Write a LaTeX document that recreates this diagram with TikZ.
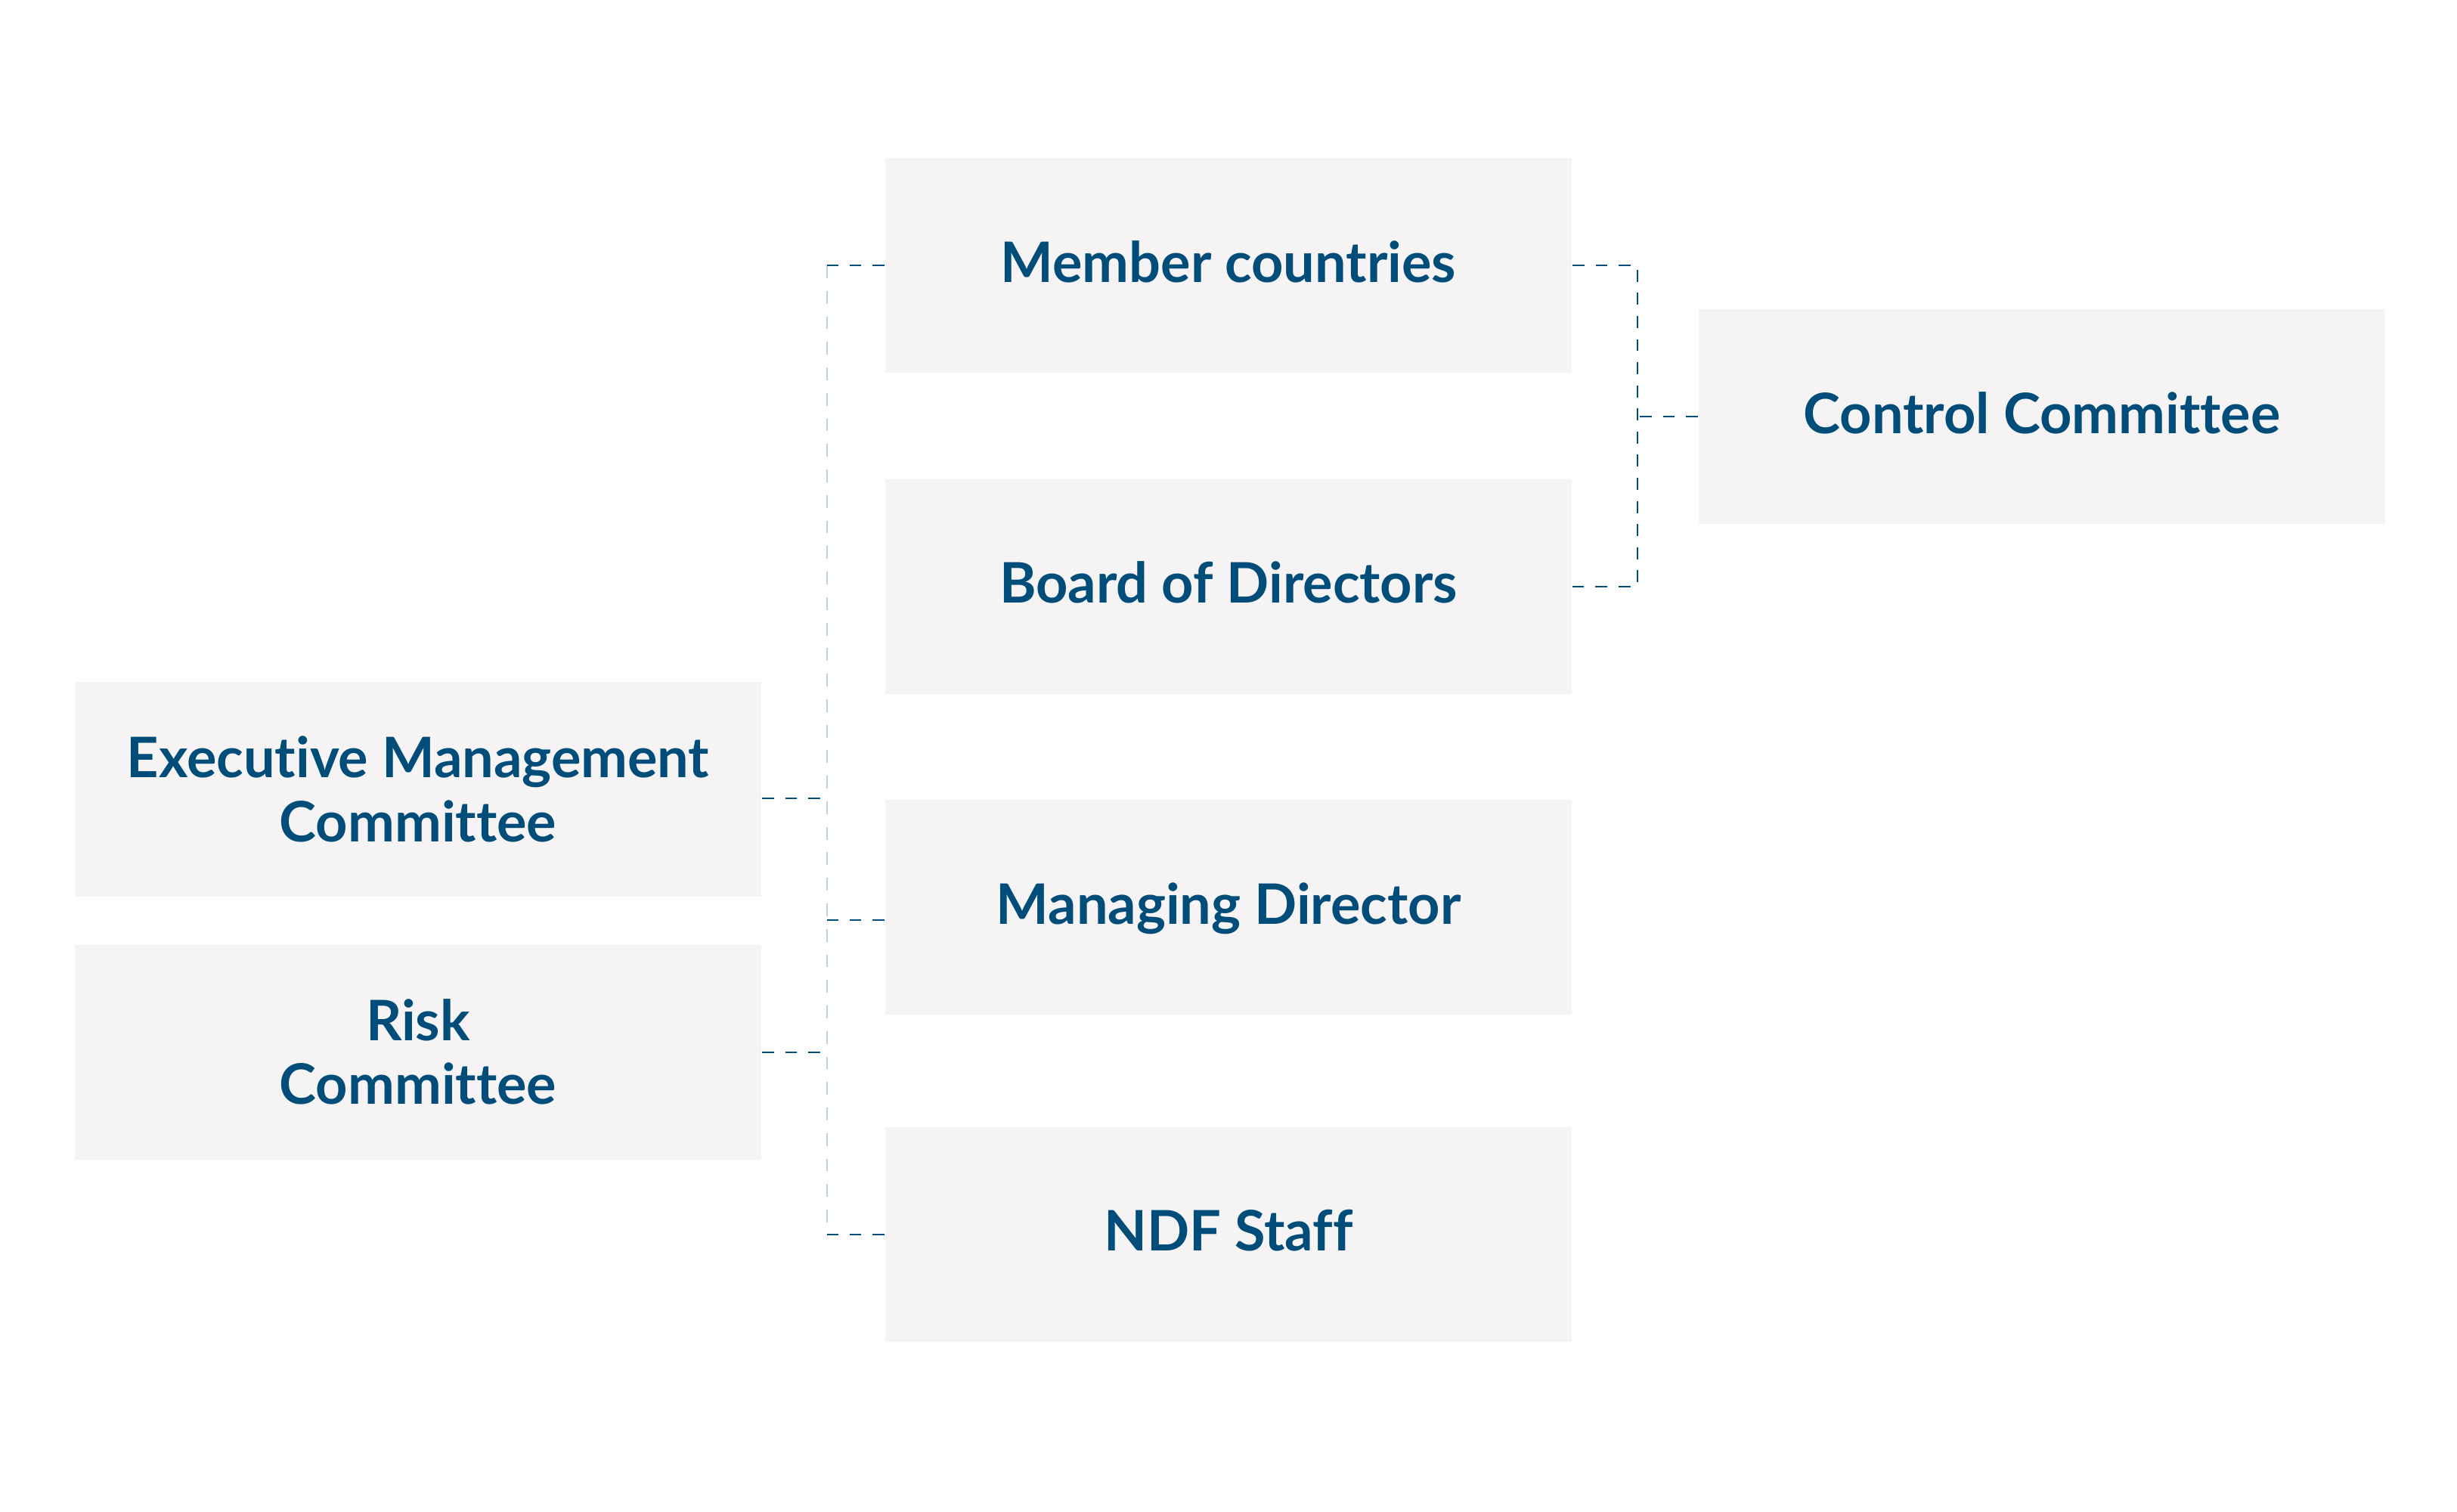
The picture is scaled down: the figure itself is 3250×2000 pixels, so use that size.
\documentclass[tikz,border=0pt]{standalone}
\usepackage{fontspec}
\setmainfont{Lato}[Ligatures={NoCommon}]
\usepackage{tikz}
\usetikzlibrary{positioning}

\definecolor{ndfblue}{HTML}{004D7A}
\definecolor{boxgrey}{HTML}{F5F3F3}
\definecolor{paleblue}{HTML}{B8D2E3}

\begin{document}
\begin{tikzpicture}[x=0.01cm, y=-0.01cm,
    orgbox/.style={rectangle, fill=boxgrey, minimum width=9.08cm, minimum height=2.84cm, inner sep=0pt, text=ndfblue, align=center, font=\fontsize{21}{24}\selectfont\bfseries},
    oneline/.style={orgbox, text depth=0.3em},
    link/.style={draw=ndfblue, line width=0.55pt, dash pattern=on 4.5pt off 4.2pt},
    spine/.style={draw=paleblue, line width=0.55pt, dash pattern=on 4.8pt off 4.8pt},
]
\useasboundingbox (0,0) rectangle (3250,2000);
\node[oneline](member) at (1625,351){Member countries};
\node[oneline](board)[below = 1.39cm of member]{Board of Directors};
\node[oneline](managing)[below = 1.39cm of board]{Managing Director};
\node[oneline](ndf)[below = 1.47cm of managing]{NDF Staff};
\node[oneline](control) at (2701,551){Control Committee};
\node[orgbox](exec) at (553,1044){Executive Management\\Committee};
\node[orgbox](risk)[below = 0.62cm of exec]{Risk\\Committee};
\coordinate(ltop) at ([xshift=-0.76cm]member.west);
\coordinate(lbot) at ([xshift=-0.76cm]ndf.west);
\coordinate(rtop) at ([xshift=0.86cm]member.east);
% left side
\draw[spine] (ltop) -- (lbot);
\draw[link] (member.west) -- (ltop);
\draw[link] (ndf.west) -- (lbot);
\draw[link] ([yshift=-0.17cm]managing.west) -- ([yshift=-0.17cm]managing.west -| ltop);
\draw[link] ([yshift=-0.12cm]exec.east) -- ([yshift=-0.12cm]exec.east -| ltop);
\draw[link] (risk.east) -- (risk.east -| ltop);
% right side
\draw[link] (member.east) -- (rtop) |- (board.east);
\draw[link] (control.west) -- (control.west -| rtop);
\end{tikzpicture}
\end{document}
